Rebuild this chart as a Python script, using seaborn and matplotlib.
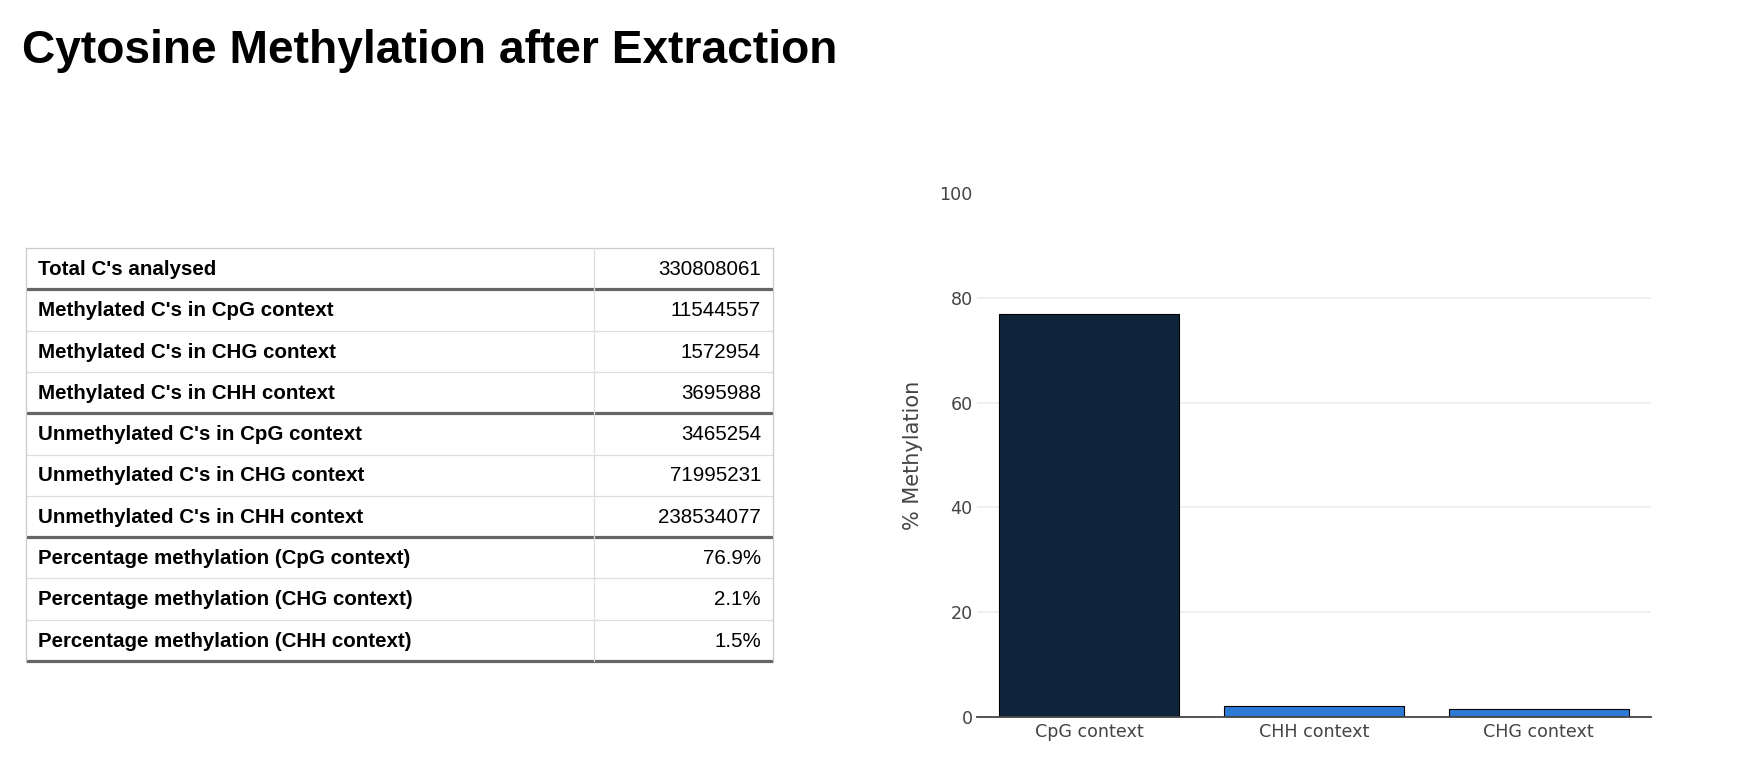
import matplotlib
matplotlib.use("Agg")
import pandas as pd
import seaborn as sns
import matplotlib.pyplot as plt

# data
row_labels = [
    "Total C's analysed",
    "Methylated C's in CpG context",
    "Methylated C's in CHG context",
    "Methylated C's in CHH context",
    "Unmethylated C's in CpG context",
    "Unmethylated C's in CHG context",
    "Unmethylated C's in CHH context",
    "Percentage methylation (CpG context)",
    "Percentage methylation (CHG context)",
    "Percentage methylation (CHH context)",
]
row_values = ["330808061", "11544557", "1572954", "3695988", "3465254",
              "71995231", "238534077", "76.9%", "2.1%", "1.5%"]
group_ends = [1, 4, 7, 10]  # rows followed by a thick rule

contexts = ["CpG context", "CHH context", "CHG context"]
pct_methylation = [76.9, 2.1, 1.5]
bar_colors = ["#0f233b", "#2e7bd6", "#2e7bd6"]
y_ticks = [0, 20, 40, 60, 80, 100]

sns.set_style("white")
plt.rcParams["font.family"] = ["DejaVu Sans"]

W, H = 1738, 773
fig = plt.figure(figsize=(W / 100, H / 100), dpi=100)

fig.text(22 / W, 1 - 63 / H, "Cytosine Methylation after Extraction",
         fontsize=33.2, fontweight="bold", family="Liberation Sans",
         color="black", ha="left", va="baseline")

# ---- table ----
tab = fig.add_axes([26 / W, 1 - 661 / H, 747 / W, 413 / H])
n = len(row_labels)
tab.set_xlim(0, 1)
tab.set_ylim(n, 0)
tab.axis("off")
div_x = (594 - 26) / 747
for i, (lab, val) in enumerate(zip(row_labels, row_values)):
    tab.text(0.016, i + 0.52, lab, fontsize=14.8, fontweight="bold",
             family="Liberation Sans", color="black", ha="left", va="center")
    tab.text(0.984, i + 0.52, val, fontsize=14.8, family="Liberation Sans",
             color="black", ha="right", va="center")
for i in range(1, n + 1):
    if i in group_ends:
        tab.plot([0, 1], [i, i], color="#666666", lw=2.3, solid_capstyle="butt", clip_on=False)
    else:
        tab.plot([0, 1], [i, i], color="#dddddd", lw=0.9, clip_on=False)
tab.plot([0, 1], [0, 0], color="#cccccc", lw=0.9, clip_on=False)
tab.plot([0, 0], [0, n], color="#cccccc", lw=0.9, clip_on=False)
tab.plot([1, 1], [0, n], color="#cccccc", lw=0.9, clip_on=False)
tab.plot([div_x, div_x], [0, n], color="#dddddd", lw=0.9, clip_on=False)

# ---- bar chart ----
ax = fig.add_axes([977 / W, 1 - 717 / H, 674 / W, 524 / H])
df = pd.DataFrame({"context": contexts, "pct": pct_methylation})
sns.barplot(data=df, x="context", y="pct", hue="context", palette=bar_colors,
            legend=False, width=0.8, edgecolor="black", linewidth=0.8, ax=ax,
            saturation=1)
ax.set_xlim(-0.5, len(contexts) - 0.5)
ax.set_ylim(0, 100)
ax.set_yticks(y_ticks)
for t in y_ticks[1:-1]:
    ax.axhline(t, color="#ebebeb", lw=1.1, zorder=0)
for s in ["top", "right", "left"]:
    ax.spines[s].set_visible(False)
ax.spines["bottom"].set_color("#444444")
ax.spines["bottom"].set_linewidth(1.3)
ax.tick_params(axis="both", length=0, labelsize=12.6, colors="#444444")
ax.tick_params(axis="y", pad=3)
ax.tick_params(axis="x", pad=4)
ax.set_xlabel("")
ax.set_ylabel("% Methylation", fontsize=15, color="#444444")
ax.yaxis.set_label_coords(-0.08, 0.5)

fig.savefig("out.png", dpi=100)
